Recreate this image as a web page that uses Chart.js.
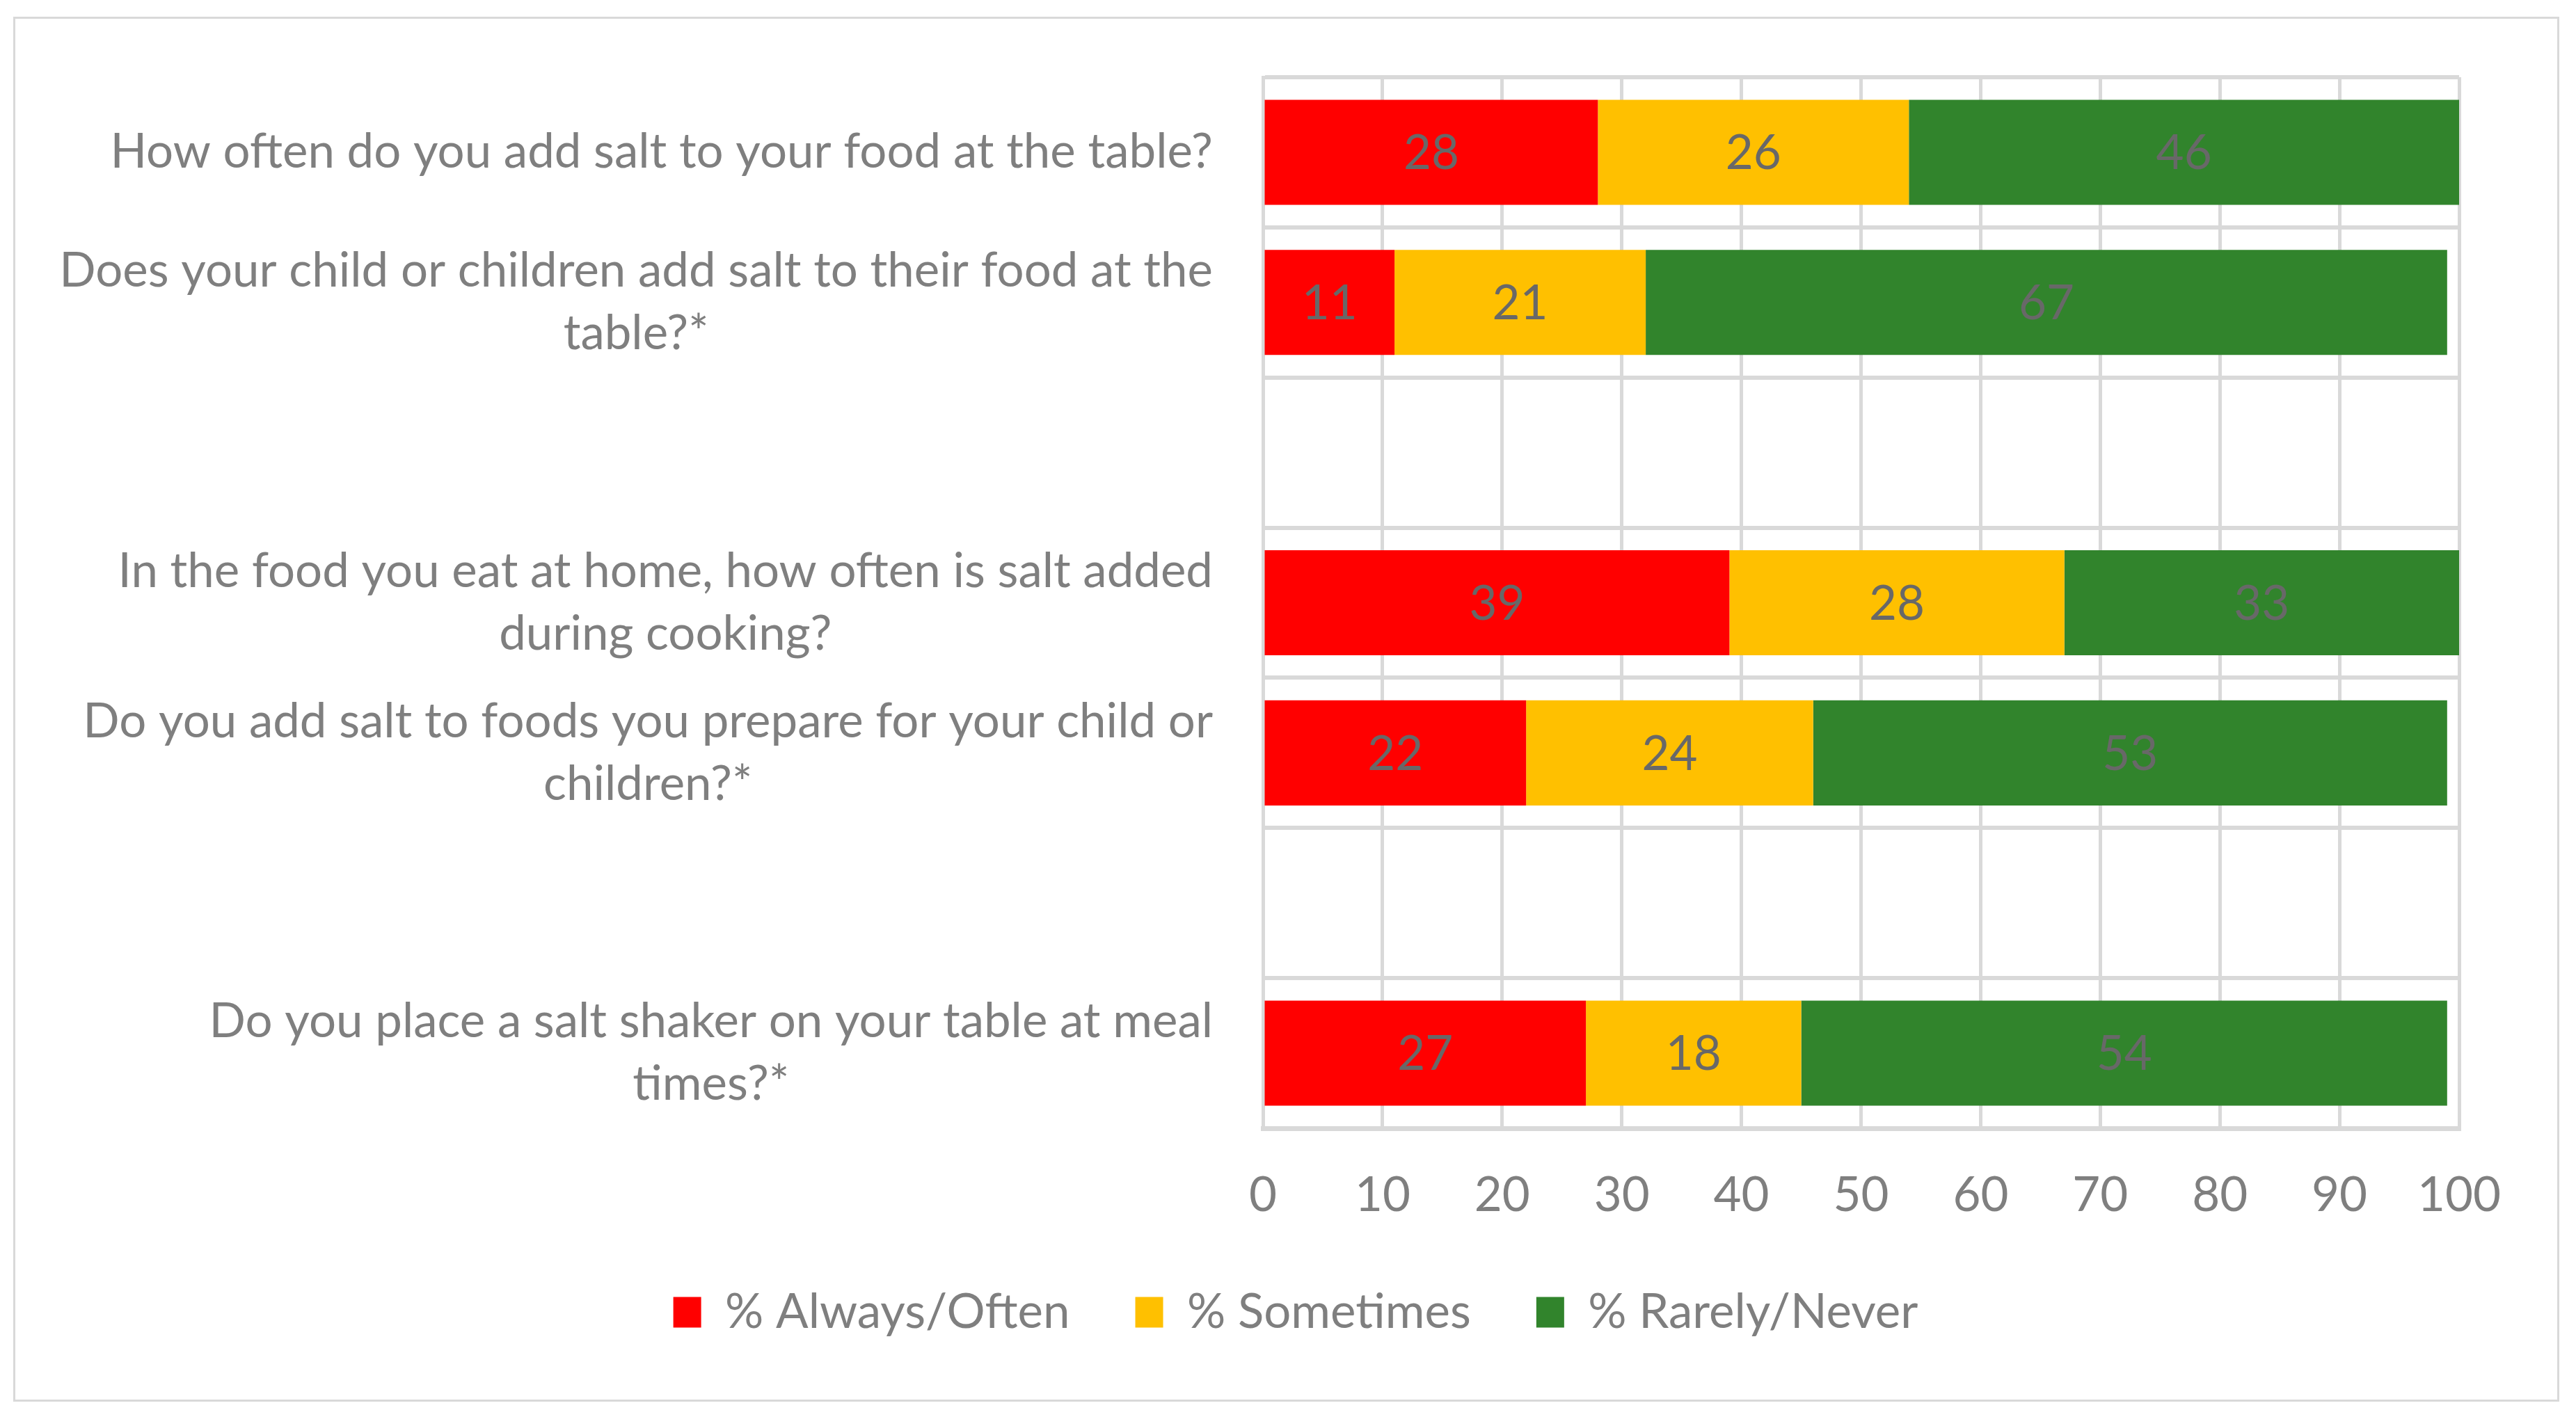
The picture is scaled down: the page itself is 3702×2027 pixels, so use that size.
<!DOCTYPE html>
<html>
<head>
<meta charset="utf-8">
<script src="https://cdn.jsdelivr.net/npm/chart.js@4"></script>
<style>
  html, body { margin: 0; padding: 0; background: #fff; }
  #wrap { position: relative; width: 3702px; height: 2027px; }
  #frame { position: absolute; left: 19px; top: 24px; width: 3653px; height: 1985px;
           border: 3px solid #d9d9d9; pointer-events: none; }
</style>
</head>
<body>
<div id="wrap">
  <canvas id="g1"></canvas>
  <div id="frame"></div>
</div>
<script>
// questions (blank rows are gaps in the original chart)
var categories = [
  "How often do you add salt to your food at the table?",
  ["Does your child or children add salt to their food at the", "table?*"],
  "",
  ["In the food you eat at home, how often is salt added", "during cooking?"],
  ["Do you add salt to foods you prepare for your child or", "children?*"],
  "",
  ["Do you place a salt shaker on your table at meal", "times?*"]
];
var seriesNames = ["% Always/Often", "% Sometimes", "% Rarely/Never"];
var alwaysOften = [28, 11, null, 39, 22, null, 27];
var sometimes   = [26, 21, null, 28, 24, null, 18];
var rarelyNever = [46, 67, null, 33, 53, null, 54];
var xMin = 0, xMax = 100, xStep = 10;

var FONT = 'Lato';
var FS = 69;
var TXT = '#7f7f7f';
var GRID = '#d9d9d9';

// y labels: right aligned block, lines centred inside it (like Excel)
var yLabels = {
  id: 'yLabels',
  afterDraw: function (chart) {
    var ctx = chart.ctx, y = chart.scales.y;
    ctx.save();
    ctx.font = FS + 'px ' + FONT;
    ctx.fillStyle = TXT;
    ctx.textAlign = 'center';
    ctx.textBaseline = 'middle';
    var right = chart.chartArea.left - 72;
    categories.forEach(function (label, i) {
      var lines = [].concat(label);
      var w = Math.max.apply(null, lines.map(function (l) { return ctx.measureText(l).width; }));
      var cx = right - w / 2;
      var cy = y.getPixelForValue(i);
      lines.forEach(function (l, k) {
        ctx.fillText(l, cx, cy + (k - (lines.length - 1) / 2) * 90);
      });
    });
    ctx.restore();
  }
};

// value labels in the middle of each segment
var barValues = {
  id: 'barValues',
  afterDatasetsDraw: function (chart) {
    var ctx = chart.ctx;
    ctx.save();
    ctx.font = FS + 'px ' + FONT;
    ctx.fillStyle = '#686868';
    ctx.textAlign = 'center';
    ctx.textBaseline = 'middle';
    chart.data.datasets.forEach(function (ds, di) {
      chart.getDatasetMeta(di).data.forEach(function (bar, i) {
        if (ds.data[i] == null) return;
        var p = bar.getCenterPoint();
        ctx.fillText(ds.data[i], p.x, p.y + 2);
      });
    });
    ctx.restore();
  }
};

function draw() {
  Chart.defaults.font.family = FONT;
  Chart.defaults.font.size = FS;
  Chart.defaults.color = TXT;

  var ctx = document.getElementById('g1').getContext('2d');
  new Chart(ctx, {
    type: 'bar',
    data: {
      labels: categories,
      datasets: [
        { label: seriesNames[0], data: alwaysOften, backgroundColor: '#ff0000' },
        { label: seriesNames[1], data: sometimes, backgroundColor: '#ffc000' },
        { label: seriesNames[2], data: rarelyNever, backgroundColor: '#31842c' }
      ]
    },
    options: {
      indexAxis: 'y',
      responsive: true,
      maintainAspectRatio: false,
      animation: false,
      events: [],
      categoryPercentage: 1,
      barPercentage: 0.7,
      layout: { padding: { left: 190, right: 168, top: 111, bottom: 96 } },
      scales: {
        x: {
          stacked: true,
          min: xMin, max: xMax,
          ticks: { stepSize: xStep, padding: 55, color: TXT, font: { size: FS } },
          grid: { color: GRID, lineWidth: 5, drawTicks: false },
          border: { color: GRID, width: 7 },
          afterFit: function (scale) { scale.height = 136; }
        },
        y: {
          stacked: true,
          ticks: { display: false },
          grid: { color: GRID, lineWidth: 6, drawTicks: false, offset: true },
          border: { color: GRID, width: 5 },
          afterFit: function (scale) { scale.width = 1815 - 190; }
        }
      },
      plugins: {
        tooltip: { enabled: false },
        legend: {
          position: 'bottom',
          labels: { boxWidth: 40, boxHeight: 44, padding: 94, color: TXT, font: { size: FS } }
        }
      }
    },
    plugins: [yLabels, barValues]
  });
}

if (document.fonts && document.fonts.load) {
  document.fonts.load(FS + 'px ' + FONT).then(draw, draw);
} else {
  draw();
}
</script>
</body>
</html>
